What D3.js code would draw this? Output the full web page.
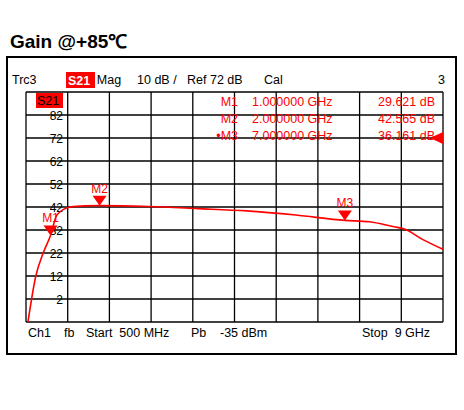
<!DOCTYPE html>
<html lang="en">
<head>
<meta charset="UTF-8">
<title>Gain</title>
<script src="https://d3js.org/d3.v7.min.js"></script>
<style>
  body{margin:0;background:#fff;font-family:"Liberation Sans",Arial,sans-serif;}
</style>
</head>
<body>
<div class="chart"></div>
<script>
  // trace data (GHz, dB)
  const freqs = [0.54, 0.7, 0.85, 1.0, 1.13, 1.4, 1.7, 2.0, 3.0, 4.0, 5.0, 6.0, 7.0, 7.5, 8.0, 8.2, 8.6, 9.0]
  const gains = [-8, 12, 22, 29.6, 38.5, 42, 42.5, 42.6, 42.2, 41.3, 40.3, 38.5, 36.2, 35.6, 33.4, 32.5, 27.7, 23.6]
  const yTicks = [82, 72, 62, 52, 42, 32, 22, 12, 2]
  const markerNames = ['M1', 'M2', 'M3']
  const markerFreqs = [1.0, 2.0, 7.0]
  const markerGains = [29.621, 42.565, 36.161]

  const W = 464, H = 410
  const pLeft = 26, pRight = 443, pTop = 92, pBottom = 322
  const red = '#ff0000'

  const svg = d3.select('.chart').append('svg').attr('width', W).attr('height', H)

  // title
  svg.append('text').attr('x', 10).attr('y', 48).style('font-size', '19px')
     .style('font-weight', 'bold').text('Gain @+85℃')

  // outer frame
  svg.append('rect').attr('x', 7).attr('y', 57).attr('width', 449).attr('height', 297)
     .attr('fill', 'none').attr('stroke', '#000').attr('stroke-width', 2)

  const x = d3.scaleLinear().domain([0.5, 9]).range([pLeft, pRight])
  const y = d3.scaleLinear().domain([-8, 92]).range([pBottom, pTop])

  // grid
  const g = svg.append('g')
  g.selectAll('.v').data(d3.range(11)).join('line')
   .attr('x1', i => x(0.5 + i * 0.85)).attr('x2', i => x(0.5 + i * 0.85))
   .attr('y1', pTop).attr('y2', pBottom).attr('stroke', '#000').attr('stroke-width', 1.3)
  g.selectAll('.h').data(d3.range(11)).join('line')
   .attr('x1', pLeft).attr('x2', pRight)
   .attr('y1', i => y(-8 + i * 10)).attr('y2', i => y(-8 + i * 10))
   .attr('stroke', '#000').attr('stroke-width', 1.3)

  // y labels
  svg.selectAll('.yl').data(yTicks).join('text')
     .attr('x', 63).attr('y', d => y(d) + 5).attr('text-anchor', 'end')
     .style('font-size', '12px').text(d => d)

  // header line
  const hdr = [['Trc3', 12], ['dB Mag', 78], ['10 dB /', 137], ['Ref 72 dB', 187], ['Cal', 264], ['3', 438]]
  svg.selectAll('.hd').data(hdr).join('text').attr('x', d => d[1]).attr('y', 84)
     .style('font-size', '12.5px').text(d => d[0])
  svg.append('rect').attr('x', 66).attr('y', 72).attr('width', 29).attr('height', 16).attr('fill', red)
  svg.append('text').attr('x', 68).attr('y', 85).attr('fill', '#fff').style('font-size', '12.5px')
     .style('font-weight', 'bold').text('S21')

  // S21 trace tag
  svg.append('rect').attr('x', 36).attr('y', 93).attr('width', 27).attr('height', 15).attr('fill', red)
  svg.append('text').attr('x', 37).attr('y', 105).style('font-size', '12.5px').text('S21')

  // marker readout
  markerNames.forEach((m, i) => {
    const yy = 106 + i * 17
    svg.append('text').attr('x', 238).attr('y', yy).attr('text-anchor', 'end').attr('fill', red)
       .style('font-size', '12.5px').text((i === 2 ? '•' : '') + m)
    svg.append('text').attr('x', 252).attr('y', yy).attr('fill', red).style('font-size', '12.5px')
       .text(markerFreqs[i].toFixed(6) + ' GHz')
    svg.append('text').attr('x', 435).attr('y', yy).attr('text-anchor', 'end').attr('fill', red)
       .style('font-size', '12.5px').text(markerGains[i].toFixed(3) + ' dB')
  })

  // reference level arrow
  svg.append('path').attr('d', `M${pRight},${y(72) - 6}L${pRight - 13},${y(72)}L${pRight},${y(72) + 6}Z`).attr('fill', red)

  // trace
  svg.append('path').datum(freqs.map((f, i) => [f, gains[i]]))
     .attr('d', d3.line().x(d => x(d[0])).y(d => y(d[1])).curve(d3.curveMonotoneX))
     .attr('fill', 'none').attr('stroke', red).attr('stroke-width', 1.6)

  // markers
  markerNames.forEach((m, i) => {
    const mx = x(markerFreqs[i]), my = y(markerGains[i])
    svg.append('path').attr('d', `M${mx - 7},${my - 10}L${mx + 7},${my - 10}L${mx},${my}Z`).attr('fill', red)
    svg.append('text').attr('x', mx).attr('y', my - 13).attr('text-anchor', 'middle').attr('fill', red)
       .style('font-size', '12px').text(m)
  })

  // footer
  const ftr = [['Ch1', 28], ['fb', 64], ['Start  500 MHz', 86], ['Pb', 191], ['-35 dBm', 220], ['Stop  9 GHz', 362]]
  svg.selectAll('.ft').data(ftr).join('text').attr('x', d => d[1]).attr('y', 337)
     .style('font-size', '12.5px').attr('xml:space', 'preserve').text(d => d[0])
</script>
</body>
</html>
